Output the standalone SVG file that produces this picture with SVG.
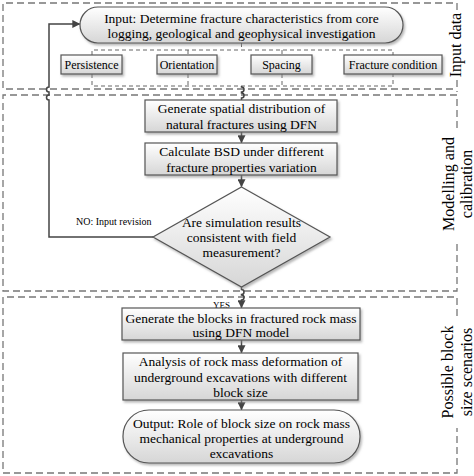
<svg xmlns="http://www.w3.org/2000/svg" width="474" height="476" viewBox="0 0 474 476">
<defs>
<linearGradient id="g" x1="0" y1="0" x2="0" y2="1">
<stop offset="0" stop-color="#ffffff"/>
<stop offset="1" stop-color="#d6d6d6"/>
</linearGradient>
<filter id="sh" x="-10%" y="-20%" width="120%" height="150%">
<feDropShadow dx="1.5" dy="2" stdDeviation="1" flood-color="#888" flood-opacity="0.6"/>
</filter>
<marker id="ah" viewBox="0 0 10 10" refX="9" refY="5" markerWidth="8" markerHeight="8" markerUnits="userSpaceOnUse" orient="auto">
<path d="M0,0 L10,5 L0,10 Z" fill="#444"/>
</marker>
</defs>
<style>
.box{fill:url(#g);stroke:#555;stroke-width:1.2;filter:url(#sh)}
.t{font-family:"Liberation Serif","Times New Roman",serif;font-size:13.5px;fill:#000;text-anchor:middle}
.s{font-family:"Liberation Serif","Times New Roman",serif;font-size:12px;fill:#000;text-anchor:middle}
.side{font-family:"Liberation Serif","Times New Roman",serif;font-size:16px;fill:#000;text-anchor:middle}
.lbl{font-family:"Liberation Serif","Times New Roman",serif;font-size:10px;fill:#000}
.region{fill:none;stroke:#777;stroke-width:1.3;stroke-dasharray:7 4}
.br{fill:none;stroke:#666;stroke-width:1;stroke-dasharray:4 3}
.c{fill:none;stroke:#444;stroke-width:1.5}
</style>

<g id="regions">
<path class="region" d="M457,10 V3 H3 V89 H455 M457,80 V92"/>
<path class="region" d="M457,128 V95 H3 V291 H457 V240"/>
<path class="region" d="M457,316 V297 H3 V473 H457 V428"/>
</g>

<g id="region-labels">
<text class="side" transform="translate(461,45) rotate(-90)">Input data</text>
<text class="side" transform="translate(454,184) rotate(-90)">Modelling and</text>
<text class="side" transform="translate(472,184) rotate(-90)">calibration</text>
<text class="side" transform="translate(453,372) rotate(-90)">Possible block</text>
<text class="side" transform="translate(472,372) rotate(-90)">size scenarios</text>
</g>

<g id="bracket">
<path class="br" d="M241.5,43 V50 M92,55 V50 H393 V55 M188,50 V55 M282,50 V55"/>
<path class="br" d="M92,74 V86 H393 V74 M188,74 V86 M282,74 V86"/>
</g>

<g id="connectors">
<path class="c" d="M241.5,86 V87 a2.5,2.5 0 0 1 0,5 V93 a2.5,2.5 0 0 1 0,5 V100"/>
<path class="c" d="M241.5,132 V142.5" marker-end="url(#ah)"/>
<path class="c" d="M241.5,175 V186.5" marker-end="url(#ah)"/>
<path class="c" d="M241.5,287 V289.5 a2.5,2.5 0 0 1 0,5 V295 a2.5,2.5 0 0 1 0,5 V307.5" marker-end="url(#ah)"/>
<path class="c" d="M241.5,340 V352.5" marker-end="url(#ah)"/>
<path class="c" d="M241.5,400 V409.5" marker-end="url(#ah)"/>
<path class="c" d="M153,237 H49 V100 a2.5,2.5 0 0 1 0,-5 V92 a2.5,2.5 0 0 1 0,-5 V24 H79.5" marker-end="url(#ah)"/>
<text class="lbl" x="76" y="225">NO: Input revision</text>
<text class="lbl" x="213" y="307.5" style="font-size:9px">YES</text>
</g>

<g id="input">
<rect class="box" x="80" y="7" width="323" height="36" rx="18" ry="18"/>
<text class="t" x="241.5" y="23">Input: Determine fracture characteristics from core</text>
<text class="t" x="241.5" y="38">logging, geological and geophysical investigation</text>
</g>

<g id="persistence">
<rect class="box" x="61" y="55" width="61" height="19"/>
<text class="s" x="91.5" y="68.5">Persistence</text>
</g>
<g id="orientation">
<rect class="box" x="157" y="55" width="60" height="19"/>
<text class="s" x="187" y="68.5">Orientation</text>
</g>
<g id="spacing">
<rect class="box" x="251" y="55" width="61" height="19"/>
<text class="s" x="281.5" y="68.5">Spacing</text>
</g>
<g id="fracture-condition">
<rect class="box" x="344" y="55" width="98" height="19"/>
<text class="s" x="393" y="68.5">Fracture condition</text>
</g>

<g id="dfn">
<rect class="box" x="145" y="100" width="192" height="32"/>
<text class="t" x="241.5" y="112.5">Generate spatial distribution of</text>
<text class="t" x="241.5" y="128.5">natural fractures using DFN</text>
</g>

<g id="bsd">
<rect class="box" x="145" y="143" width="192" height="32"/>
<text class="t" x="241.5" y="156">Calculate BSD under different</text>
<text class="t" x="241.5" y="171.5">fracture properties variation</text>
</g>

<g id="decision">
<polygon class="box" points="241.5,187 330,237 241.5,287 153,237"/>
<text class="t" x="241.5" y="226.5">Are simulation results</text>
<text class="t" x="241.5" y="241.5">consistent with field</text>
<text class="t" x="241.5" y="257">measurement?</text>
</g>

<g id="blocks">
<rect class="box" x="122" y="308" width="238" height="32"/>
<text class="t" x="241" y="322.5">Generate the blocks in fractured rock mass</text>
<text class="t" x="241" y="337">using DFN model</text>
</g>

<g id="analysis">
<rect class="box" x="123" y="353" width="235" height="47"/>
<text class="t" x="240.5" y="366">Analysis of rock mass deformation of</text>
<text class="t" x="240.5" y="381.5">underground excavations with different</text>
<text class="t" x="240.5" y="397">block size</text>
</g>

<g id="output">
<rect class="box" x="123" y="410" width="237" height="53" rx="26" ry="26"/>
<text class="t" x="241.5" y="427.5">Output: Role of block size on rock mass</text>
<text class="t" x="241.5" y="442.5">mechanical properties at underground</text>
<text class="t" x="241.5" y="458">excavations</text>
</g>
</svg>
